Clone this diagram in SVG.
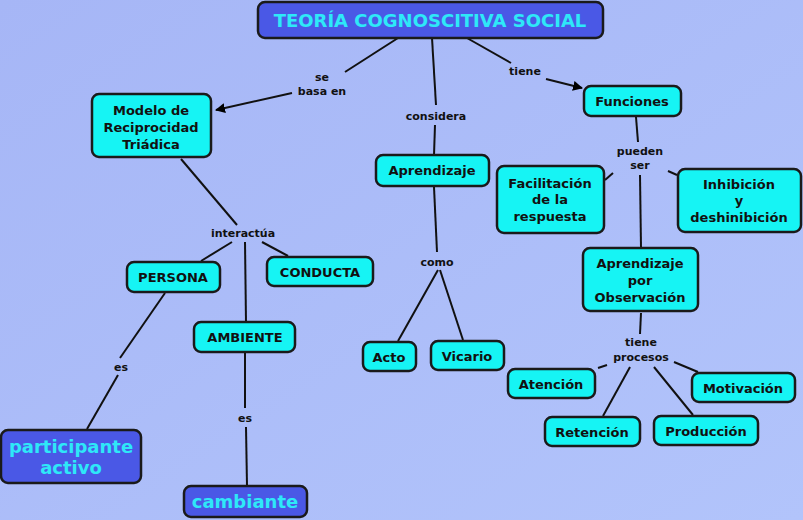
<svg xmlns="http://www.w3.org/2000/svg" width="803" height="520" viewBox="0 0 803 520">
<defs>
<linearGradient id="bg" x1="0" y1="0" x2="1" y2="1"><stop offset="0" stop-color="#a6b6f6"/><stop offset="1" stop-color="#b2c4fb"/></linearGradient>
<marker id="ar" viewBox="0 0 10 10" refX="9" refY="5" markerWidth="10" markerHeight="10" markerUnits="userSpaceOnUse" orient="auto"><path d="M0,0 L10,5 L0,10 z" fill="#000"/></marker>
<style>
.n rect{fill:#16f4f4;stroke:#1a1a1a;stroke-width:2.5}
.d rect{fill:#4a58e6;stroke:#1a1a1a;stroke-width:2.5}
text{font-family:"DejaVu Sans",Verdana,sans-serif;font-weight:bold;text-anchor:middle}
.n text{font-size:13px;fill:#111}
.d text{font-size:18px;fill:#2ee8f8}
.l{font-size:11px;fill:#111}
#c line{stroke:#111;stroke-width:2}
</style>
</defs>
<rect width="803" height="520" fill="url(#bg)"/>
<g id="c">
<line x1="398" y1="38" x2="345" y2="72"/>
<line x1="292" y1="93" x2="216" y2="110" marker-end="url(#ar)"/>
<line x1="432" y1="38" x2="436" y2="105"/>
<line x1="435" y1="125" x2="434" y2="155"/>
<line x1="467" y1="38" x2="511" y2="63"/>
<line x1="546" y1="79" x2="582" y2="88" marker-end="url(#ar)"/>
<line x1="636" y1="117" x2="638" y2="142"/>
<line x1="605" y1="180" x2="613" y2="173"/>
<line x1="668" y1="171" x2="677" y2="175"/>
<line x1="640" y1="175" x2="641" y2="248"/>
<line x1="181" y1="159" x2="237" y2="225"/>
<line x1="232" y1="242" x2="201" y2="261"/>
<line x1="262" y1="242" x2="288" y2="256"/>
<line x1="245" y1="242" x2="246" y2="322"/>
<line x1="165" y1="293" x2="120" y2="358"/>
<line x1="118" y1="375" x2="87" y2="429"/>
<line x1="245" y1="353" x2="245" y2="408"/>
<line x1="246" y1="427" x2="247" y2="486"/>
<line x1="434" y1="187" x2="437" y2="252"/>
<line x1="438" y1="270" x2="398" y2="341"/>
<line x1="440" y1="270" x2="463" y2="340"/>
<line x1="641" y1="313" x2="640" y2="334"/>
<line x1="598" y1="368" x2="607" y2="365"/>
<line x1="630" y1="367" x2="603" y2="416"/>
<line x1="654" y1="367" x2="693" y2="415"/>
<line x1="674" y1="362" x2="698" y2="372"/>
<text class="l" x="322" y="81">se</text><text class="l" x="322" y="95">basa en</text>
<text class="l" x="436" y="120">considera</text>
<text class="l" x="525" y="75">tiene</text>
<text class="l" x="640" y="155">pueden</text><text class="l" x="640" y="169">ser</text>
<text class="l" x="243" y="237">interactúa</text>
<text class="l" x="121" y="371">es</text>
<text class="l" x="245" y="422">es</text>
<text class="l" x="437" y="266">como</text>
<text class="l" x="641" y="346">tiene</text><text class="l" x="641" y="361">procesos</text>
</g>
<g id="root" class="d"><rect x="258" y="2" width="345" height="36" rx="7"/><text x="430" y="27">TEORÍA COGNOSCITIVA SOCIAL</text></g>
<g id="modelo" class="n"><rect x="92" y="94" width="119" height="63" rx="7"/><text x="151" y="115">Modelo de</text><text x="151" y="132">Reciprocidad</text><text x="151" y="149">Triádica</text></g>
<g id="aprendizaje" class="n"><rect x="376" y="155" width="113" height="31" rx="7"/><text x="432" y="175">Aprendizaje</text></g>
<g id="funciones" class="n"><rect x="584" y="86" width="97" height="30" rx="7"/><text x="632" y="106">Funciones</text></g>
<g id="facilitacion" class="n"><rect x="497" y="166" width="107" height="67" rx="7"/><text x="550" y="188">Facilitación</text><text x="550" y="204">de la</text><text x="550" y="221">respuesta</text></g>
<g id="inhibicion" class="n"><rect x="678" y="169" width="123" height="63" rx="7"/><text x="739" y="189">Inhibición</text><text x="739" y="205">y</text><text x="739" y="222">deshinibición</text></g>
<g id="observacion" class="n"><rect x="583" y="248" width="115" height="63" rx="7"/><text x="640" y="268">Aprendizaje</text><text x="640" y="285">por</text><text x="640" y="302">Observación</text></g>
<g id="persona" class="n"><rect x="127" y="262" width="93" height="30" rx="7"/><text x="173" y="282">PERSONA</text></g>
<g id="conducta" class="n"><rect x="267" y="257" width="106" height="29" rx="7"/><text x="320" y="277">CONDUCTA</text></g>
<g id="ambiente" class="n"><rect x="194" y="322" width="101" height="30" rx="7"/><text x="245" y="342">AMBIENTE</text></g>
<g id="participante" class="d"><rect x="1" y="430" width="140" height="53" rx="7"/><text x="71" y="453">participante</text><text x="71" y="474">activo</text></g>
<g id="cambiante" class="d"><rect x="184" y="486" width="123" height="31" rx="7"/><text x="245" y="508">cambiante</text></g>
<g id="acto" class="n"><rect x="363" y="342" width="53" height="29" rx="7"/><text x="389" y="362">Acto</text></g>
<g id="vicario" class="n"><rect x="431" y="341" width="73" height="29" rx="7"/><text x="467" y="361">Vicario</text></g>
<g id="atencion" class="n"><rect x="508" y="369" width="87" height="29" rx="7"/><text x="551" y="389">Atención</text></g>
<g id="retencion" class="n"><rect x="545" y="417" width="95" height="29" rx="7"/><text x="592" y="437">Retención</text></g>
<g id="produccion" class="n"><rect x="654" y="416" width="104" height="29" rx="7"/><text x="706" y="436">Producción</text></g>
<g id="motivacion" class="n"><rect x="692" y="373" width="103" height="29" rx="7"/><text x="743" y="393">Motivación</text></g>
</svg>
